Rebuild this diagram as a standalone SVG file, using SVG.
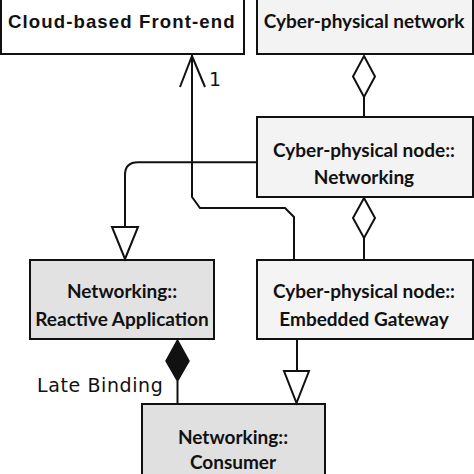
<svg xmlns="http://www.w3.org/2000/svg" width="474" height="474" viewBox="0 0 474 474">
<style>
.box{stroke:#111;stroke-width:2}
.lbl{font-family:Lato,"Open Sans",sans-serif;font-weight:bold;font-size:19px;fill:#111;text-anchor:middle}
.cl{font-family:"Liberation Sans",Arial,sans-serif;font-weight:bold;font-size:18.6px;fill:#111;letter-spacing:1.1px}
.ln{fill:none;stroke:#111;stroke-width:2}
.hol{fill:#fff;stroke:#111;stroke-width:2}
.fil{fill:#111;stroke:#111;stroke-width:1.5}
.tx{font-family:"DejaVu Sans",Verdana,sans-serif;font-size:19px;fill:#111;letter-spacing:0.6px}
</style>
<rect width="474" height="474" fill="#fff"/>
<g id="cloud">
<rect class="box" x="1" y="-40" width="243" height="94" fill="#fff"/>
<text class="cl" x="8" y="28">Cloud-based Front-end</text>
</g>
<g id="cpnetwork">
<rect class="box" x="257" y="-40" width="216" height="94" fill="#f3f3f3"/>
<text class="lbl" x="364" y="28">Cyber-physical network</text>
</g>
<g id="cpnode-networking">
<rect class="box" x="257" y="117" width="216" height="80" fill="#f3f3f3"/>
<text class="lbl" x="364" y="157">Cyber-physical node::</text>
<text class="lbl" x="364" y="184">Networking</text>
</g>
<g id="reactive-app">
<rect class="box" x="30" y="260" width="184" height="79" fill="#e2e2e2"/>
<text class="lbl" x="122" y="298">Networking::</text>
<text class="lbl" x="122" y="326">Reactive Application</text>
</g>
<g id="embedded-gateway">
<rect class="box" x="257" y="260" width="216" height="79" fill="#f4f4f4"/>
<text class="lbl" x="364" y="298">Cyber-physical node::</text>
<text class="lbl" x="364" y="326">Embedded Gateway</text>
</g>
<g id="consumer">
<rect class="box" x="142" y="404" width="183" height="90" fill="#e0e0e0"/>
<text class="lbl" x="233" y="444">Networking::</text>
<text class="lbl" x="233" y="469">Consumer</text>
</g>
<g id="connectors">
<line class="ln" x1="364" y1="97" x2="364" y2="117"/>
<polygon class="hol" points="364,56 375,76.5 364,97 353,76.5"/>
<line class="ln" x1="364" y1="238" x2="364" y2="260"/>
<polygon class="hol" points="364,198 375,218 364,238 353,218"/>
<path class="ln" d="M257,162.3 H138 Q125,162.3 125,175 V227"/>
<polygon class="hol" points="112,227 138,227 125,259"/>
<path class="ln" d="M192,55 V197 L200,208 H285 L294,217 V260"/>
<path class="ln" d="M180,87 L192,56 L205,87"/>
<text class="tx" x="209" y="86" style="letter-spacing:0">1</text>
<line class="ln" x1="297" y1="339" x2="297" y2="371"/>
<polygon class="hol" points="284,371 309,371 296.5,403"/>
<line class="ln" x1="177.5" y1="381" x2="177.5" y2="404"/>
<polygon class="fil" points="177.5,340 189,361 177.5,381 166,361"/>
<text class="tx" x="37" y="392">Late Binding</text>
</g>
</svg>
